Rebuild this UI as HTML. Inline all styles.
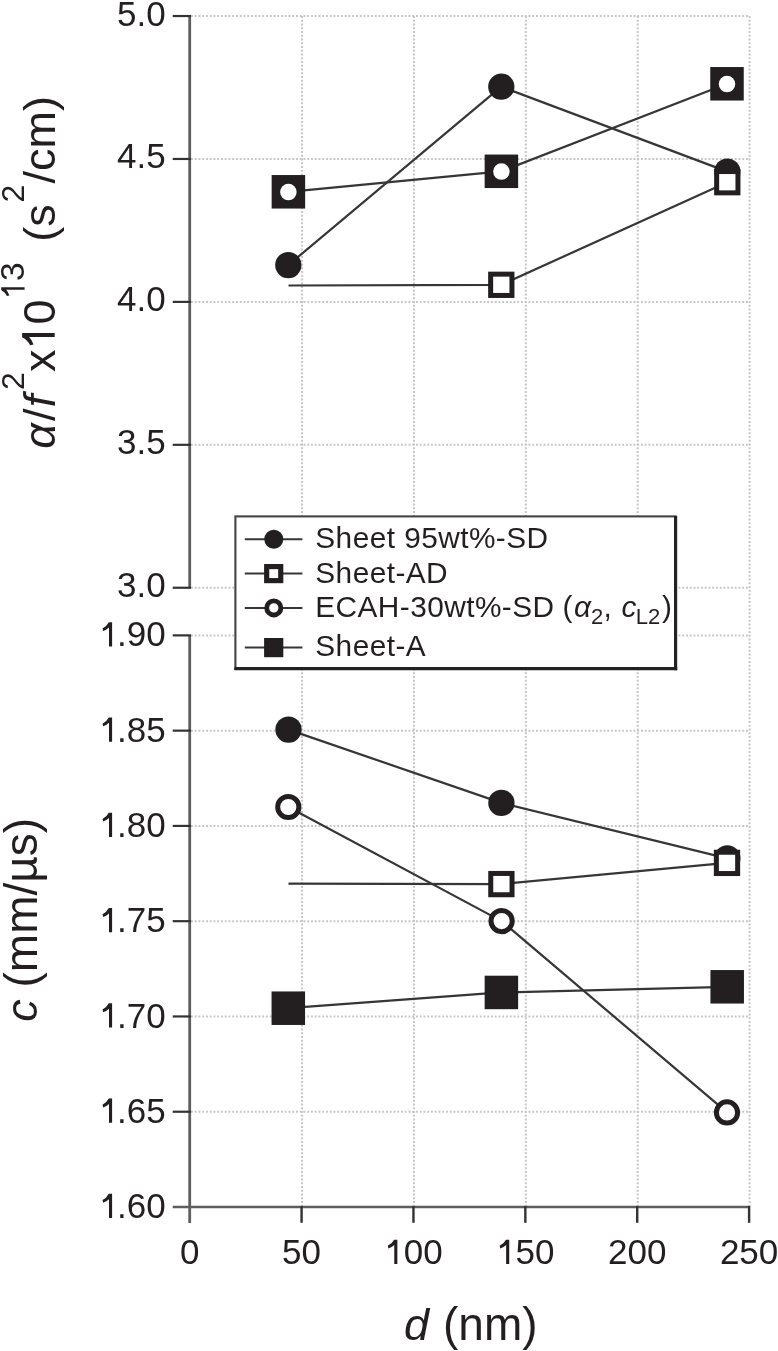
<!DOCTYPE html><html><head><meta charset="utf-8"><style>html,body{margin:0;padding:0;background:#fff;width:778px;height:1351px;overflow:hidden}svg{display:block}text{font-family:"Liberation Sans",sans-serif;fill:#231f20}svg{will-change:transform;-webkit-font-smoothing:antialiased}</style></head><body>
<svg width="778" height="1351" viewBox="0 0 778 1351">
<rect width="778" height="1351" fill="#fff"/>
<g stroke="#c6c6c6" stroke-width="2.0" stroke-dasharray="1.9 1.85" fill="none"><line x1="191" y1="16.03" x2="749.90" y2="16.03"/><line x1="191" y1="158.96" x2="749.90" y2="158.96"/><line x1="191" y1="301.89" x2="749.90" y2="301.89"/><line x1="191" y1="444.82" x2="749.90" y2="444.82"/><line x1="191" y1="587.75" x2="749.90" y2="587.75"/><line x1="191" y1="635.38" x2="749.90" y2="635.38"/><line x1="191" y1="730.65" x2="749.90" y2="730.65"/><line x1="191" y1="825.92" x2="749.90" y2="825.92"/><line x1="191" y1="921.19" x2="749.90" y2="921.19"/><line x1="191" y1="1016.46" x2="749.90" y2="1016.46"/><line x1="191" y1="1111.73" x2="749.90" y2="1111.73"/><line x1="302.08" y1="16.03" x2="302.08" y2="1207.00"/><line x1="413.96" y1="16.03" x2="413.96" y2="1207.00"/><line x1="525.84" y1="16.03" x2="525.84" y2="1207.00"/><line x1="637.72" y1="16.03" x2="637.72" y2="1207.00"/><line x1="749.60" y1="16.03" x2="749.60" y2="1207.00"/></g>
<line x1="189.7" y1="15.53" x2="189.7" y2="588.25" stroke="#5e5e5e" stroke-width="2.8"/><line x1="189.7" y1="634.88" x2="189.7" y2="1223.00" stroke="#5e5e5e" stroke-width="2.8"/><line x1="172.7" y1="1207.00" x2="749.60" y2="1207.00" stroke="#5e5e5e" stroke-width="2.4"/><line x1="172.7" y1="16.03" x2="191.00" y2="16.03" stroke="#333333" stroke-width="2.2"/><line x1="172.7" y1="158.96" x2="191.00" y2="158.96" stroke="#333333" stroke-width="2.2"/><line x1="172.7" y1="301.89" x2="191.00" y2="301.89" stroke="#333333" stroke-width="2.2"/><line x1="172.7" y1="444.82" x2="191.00" y2="444.82" stroke="#333333" stroke-width="2.2"/><line x1="172.7" y1="587.75" x2="191.00" y2="587.75" stroke="#333333" stroke-width="2.2"/><line x1="172.7" y1="635.38" x2="191.00" y2="635.38" stroke="#333333" stroke-width="2.2"/><line x1="172.7" y1="730.65" x2="191.00" y2="730.65" stroke="#333333" stroke-width="2.2"/><line x1="172.7" y1="825.92" x2="191.00" y2="825.92" stroke="#333333" stroke-width="2.2"/><line x1="172.7" y1="921.19" x2="191.00" y2="921.19" stroke="#333333" stroke-width="2.2"/><line x1="172.7" y1="1016.46" x2="191.00" y2="1016.46" stroke="#333333" stroke-width="2.2"/><line x1="172.7" y1="1111.73" x2="191.00" y2="1111.73" stroke="#333333" stroke-width="2.2"/><line x1="301.58" y1="1206.00" x2="301.58" y2="1222.8" stroke="#333333" stroke-width="2.4"/><line x1="413.46" y1="1206.00" x2="413.46" y2="1222.8" stroke="#333333" stroke-width="2.4"/><line x1="525.34" y1="1206.00" x2="525.34" y2="1222.8" stroke="#333333" stroke-width="2.4"/><line x1="637.22" y1="1206.00" x2="637.22" y2="1222.8" stroke="#333333" stroke-width="2.4"/><line x1="749.10" y1="1206.00" x2="749.10" y2="1222.8" stroke="#333333" stroke-width="2.4"/>
<text x="165.6" y="25.83" text-anchor="end" font-size="35">5.0</text><text x="165.6" y="168.06" text-anchor="end" font-size="35">4.5</text><text x="165.6" y="311.19" text-anchor="end" font-size="35">4.0</text><text x="165.6" y="454.37" text-anchor="end" font-size="35">3.5</text><text x="165.6" y="596.70" text-anchor="end" font-size="35">3.0</text><path fill="#231f20" d="M112.10,622.18 L112.10,646.48 L109.00,646.48 L109.00,627.58 Q106.60,629.88 103.20,631.08 L102.50,628.38 Q106.50,626.58 108.80,622.18 Z"/><text x="165.6" y="646.48" text-anchor="end" font-size="35">.90</text><path fill="#231f20" d="M112.10,717.45 L112.10,741.75 L109.00,741.75 L109.00,722.85 Q106.60,725.15 103.20,726.35 L102.50,723.65 Q106.50,721.85 108.80,717.45 Z"/><text x="165.6" y="741.75" text-anchor="end" font-size="35">.85</text><path fill="#231f20" d="M112.10,812.72 L112.10,837.02 L109.00,837.02 L109.00,818.12 Q106.60,820.42 103.20,821.62 L102.50,818.92 Q106.50,817.12 108.80,812.72 Z"/><text x="165.6" y="837.02" text-anchor="end" font-size="35">.80</text><path fill="#231f20" d="M112.10,907.99 L112.10,932.29 L109.00,932.29 L109.00,913.39 Q106.60,915.69 103.20,916.89 L102.50,914.19 Q106.50,912.39 108.80,907.99 Z"/><text x="165.6" y="932.29" text-anchor="end" font-size="35">.75</text><path fill="#231f20" d="M112.10,1003.26 L112.10,1027.56 L109.00,1027.56 L109.00,1008.66 Q106.60,1010.96 103.20,1012.16 L102.50,1009.46 Q106.50,1007.66 108.80,1003.26 Z"/><text x="165.6" y="1027.56" text-anchor="end" font-size="35">.70</text><path fill="#231f20" d="M112.10,1098.53 L112.10,1122.83 L109.00,1122.83 L109.00,1103.93 Q106.60,1106.23 103.20,1107.43 L102.50,1104.73 Q106.50,1102.93 108.80,1098.53 Z"/><text x="165.6" y="1122.83" text-anchor="end" font-size="35">.65</text><path fill="#231f20" d="M112.10,1193.80 L112.10,1218.10 L109.00,1218.10 L109.00,1199.20 Q106.60,1201.50 103.20,1202.70 L102.50,1200.00 Q106.50,1198.20 108.80,1193.80 Z"/><text x="165.6" y="1218.10" text-anchor="end" font-size="35">.60</text><text x="189.70" y="1263.95" text-anchor="middle" font-size="35">0</text><text x="301.58" y="1263.95" text-anchor="middle" font-size="35">50</text><path fill="#231f20" d="M397.36,1239.65 L397.36,1263.95 L394.26,1263.95 L394.26,1245.05 Q391.86,1247.35 388.46,1248.55 L387.76,1245.85 Q391.76,1244.05 394.06,1239.65 Z"/><text x="442.66" y="1263.95" text-anchor="end" font-size="35">00</text><path fill="#231f20" d="M509.24,1239.65 L509.24,1263.95 L506.14,1263.95 L506.14,1245.05 Q503.74,1247.35 500.34,1248.55 L499.64,1245.85 Q503.64,1244.05 505.94,1239.65 Z"/><text x="554.54" y="1263.95" text-anchor="end" font-size="35">50</text><text x="637.22" y="1263.95" text-anchor="middle" font-size="35">200</text><text x="749.10" y="1263.95" text-anchor="middle" font-size="35">250</text>
<text transform="translate(54.70,448.70) rotate(-90)" font-size="45" font-style="italic">&#945;</text><text transform="translate(54.70,421.10) rotate(-90)" font-size="45">/</text><text transform="translate(54.70,407.30) rotate(-90)" font-size="45" font-style="italic">f</text><text transform="translate(23.85,389.90) rotate(-90)" font-size="32">2</text><text transform="translate(54.70,372.10) rotate(-90)" font-size="45">x</text><path transform="translate(54.7,372.1) rotate(-90)" fill="#231f20" d="M39.20,-32.60 L39.20,0.00 L35.10,0.00 L35.10,-25.63 Q32.11,-22.67 27.72,-21.12 L26.82,-24.60 Q31.98,-26.92 34.84,-32.60 Z"/><text transform="translate(54.70,324.60) rotate(-90)" font-size="45">0</text><path transform="translate(24.6,297.4) rotate(-90)" fill="#231f20" d="M10.20,-23.40 L10.20,0.00 L7.60,0.00 L7.60,-18.43 Q5.14,-16.32 2.01,-15.21 L1.37,-17.70 Q5.05,-19.35 7.42,-23.40 Z"/><text transform="translate(24.20,281.00) rotate(-90)" font-size="33.5">3</text><text transform="translate(54.70,241.80) rotate(-90)" font-size="45">(s</text><text transform="translate(23.50,202.40) rotate(-90)" font-size="32">2</text><text transform="translate(54.70,183.40) rotate(-90)" font-size="45">/cm)</text><text transform="translate(36.80,1021.70) rotate(-90)" font-size="45" font-style="italic">c</text><text transform="translate(37.00,987.50) rotate(-90)" font-size="46">(mm/&#181;s)</text><text x="403.9" y="1340" font-size="45" font-style="italic">d</text><text x="443.05" y="1340" font-size="46">(nm)</text>
<polyline fill="none" stroke="#363636" stroke-width="2.2" stroke-linejoin="round" points="288.30,265.10 501.30,86.70 727.30,171.60"/><polyline fill="none" stroke="#363636" stroke-width="2.2" stroke-linejoin="round" points="288.50,285.50 501.30,284.80 727.30,182.20"/><polyline fill="none" stroke="#363636" stroke-width="2.2" stroke-linejoin="round" points="288.40,191.80 501.40,171.30 727.00,83.80"/><rect x="271.65" y="175.05" width="33.5" height="33.5" fill="#231f20"/><circle cx="288.40" cy="192.10" r="8.25" fill="#fff"/><rect x="484.65" y="154.55" width="33.5" height="33.5" fill="#231f20"/><circle cx="501.40" cy="171.60" r="8.25" fill="#fff"/><rect x="710.25" y="67.05" width="33.5" height="33.5" fill="#231f20"/><circle cx="727.00" cy="84.10" r="8.25" fill="#fff"/><circle cx="288.30" cy="265.10" r="13.15" fill="#231f20"/><circle cx="501.30" cy="86.70" r="13.15" fill="#231f20"/><circle cx="727.30" cy="171.60" r="13.15" fill="#231f20"/><rect x="490.65" y="274.15" width="21.3" height="21.3" fill="#fff" stroke="#231f20" stroke-width="5.0"/><rect x="716.65" y="171.55" width="21.3" height="21.3" fill="#fff" stroke="#231f20" stroke-width="5.0"/><polyline fill="none" stroke="#363636" stroke-width="2.2" stroke-linejoin="round" points="288.50,729.60 501.40,802.90 727.30,858.40"/><polyline fill="none" stroke="#363636" stroke-width="2.2" stroke-linejoin="round" points="288.50,883.60 501.40,884.10 727.00,862.90"/><polyline fill="none" stroke="#363636" stroke-width="2.2" stroke-linejoin="round" points="288.30,807.00 501.60,921.10 727.00,1112.40"/><polyline fill="none" stroke="#363636" stroke-width="2.2" stroke-linejoin="round" points="288.30,1008.20 501.40,992.45 727.20,986.80"/><rect x="271.55" y="991.45" width="33.5" height="33.5" fill="#231f20"/><rect x="484.65" y="975.70" width="33.5" height="33.5" fill="#231f20"/><rect x="710.45" y="970.05" width="33.5" height="33.5" fill="#231f20"/><circle cx="288.50" cy="729.60" r="13.15" fill="#231f20"/><circle cx="501.40" cy="802.90" r="13.15" fill="#231f20"/><circle cx="727.30" cy="858.40" r="13.15" fill="#231f20"/><circle cx="288.30" cy="807.00" r="10.6" fill="#fff" stroke="#231f20" stroke-width="5.0"/><circle cx="501.60" cy="921.10" r="10.6" fill="#fff" stroke="#231f20" stroke-width="5.0"/><circle cx="727.00" cy="1112.40" r="10.6" fill="#fff" stroke="#231f20" stroke-width="5.0"/><rect x="490.75" y="873.45" width="21.3" height="21.3" fill="#fff" stroke="#231f20" stroke-width="5.0"/><rect x="716.35" y="852.25" width="21.3" height="21.3" fill="#fff" stroke="#231f20" stroke-width="5.0"/>
<rect x="235.4" y="516.4" width="440.2" height="152.3" fill="#fff" stroke="#444" stroke-width="2.1"/><line x1="675.6" y1="516" x2="675.6" y2="670.2" stroke="#222" stroke-width="3.2"/><line x1="234.3" y1="668.7" x2="677.2" y2="668.7" stroke="#222" stroke-width="3.2"/><line x1="244.8" y1="539.20" x2="302.4" y2="539.20" stroke="#363636" stroke-width="2"/><line x1="244.8" y1="573.60" x2="302.4" y2="573.60" stroke="#363636" stroke-width="2"/><line x1="244.8" y1="607.90" x2="302.4" y2="607.90" stroke="#363636" stroke-width="2"/><line x1="244.8" y1="647.60" x2="302.4" y2="647.60" stroke="#363636" stroke-width="2"/><circle cx="273.80" cy="539.20" r="9.5" fill="#231f20"/><rect x="266.68" y="566.58" width="14.05" height="14.05" fill="#fff" stroke="#231f20" stroke-width="5.1499999999999995"/><circle cx="273.80" cy="607.90" r="7.075" fill="#fff" stroke="#231f20" stroke-width="4.85"/><rect x="264.10" y="638.00" width="19.2" height="19.2" fill="#231f20"/><text x="315.3" y="548.3" font-size="29.8" letter-spacing="0.45">Sheet 95wt%-SD</text><text x="315.3" y="582.7" font-size="29.8" letter-spacing="0.45">Sheet-AD</text><text x="315.2" y="617.25" font-size="29.8" letter-spacing="0.45">ECAH-30wt%-SD</text><text x="562.4" y="617.25" font-size="29.8">(</text><text x="574.1" y="617.25" font-size="29.8" font-style="italic">&#945;</text><text x="591.1" y="624.25" font-size="22">2</text><text x="603.5" y="617.25" font-size="29.8">,</text><text x="621.4" y="617.25" font-size="29.8" font-style="italic">c</text><text x="635.8" y="624.25" font-size="22">L2</text><text x="662.0" y="617.25" font-size="29.8">)</text><text x="315.3" y="656.3" font-size="29.8" letter-spacing="0.45">Sheet-A</text>
</svg></body></html>
